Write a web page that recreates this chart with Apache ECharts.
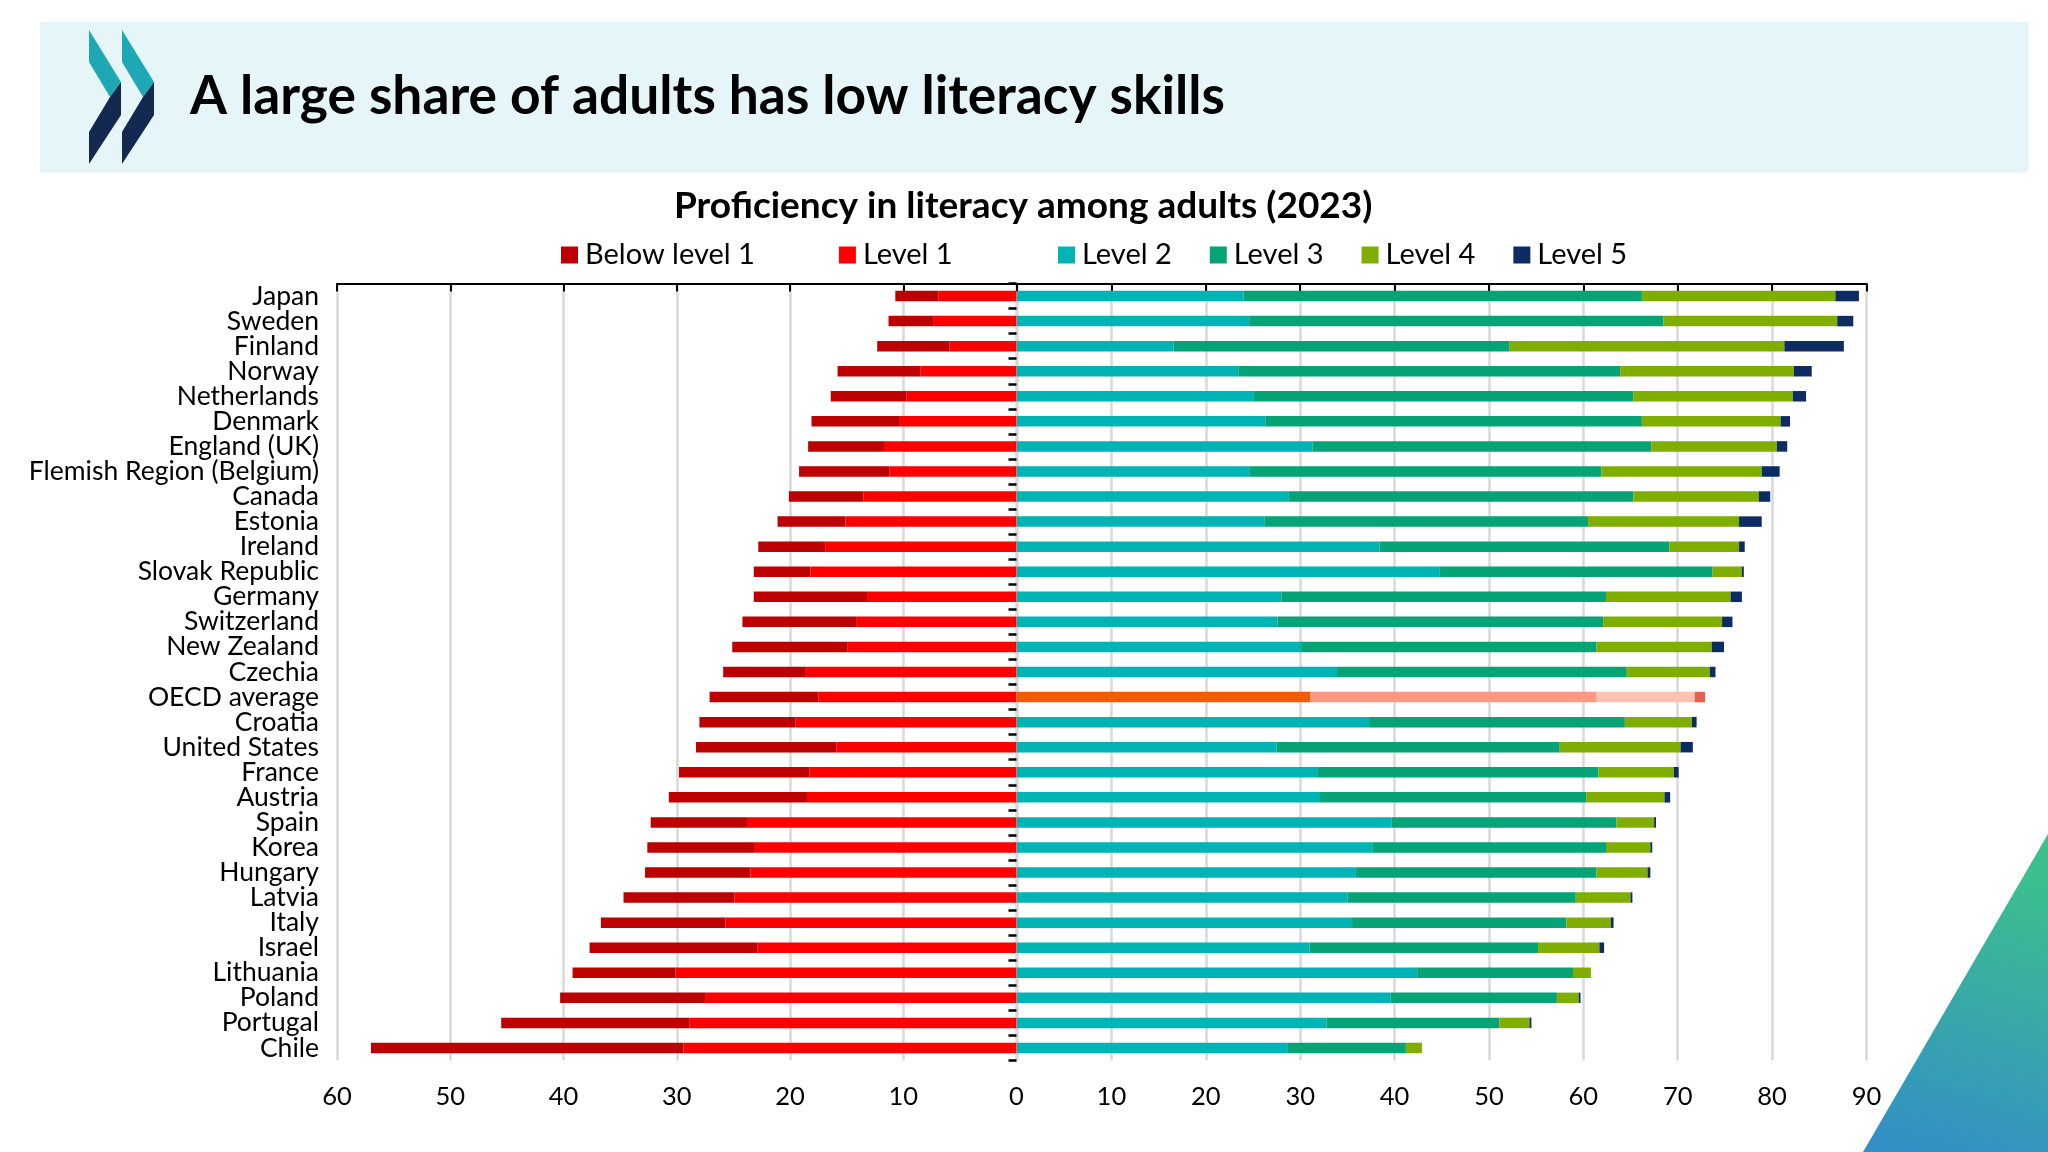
<!DOCTYPE html>
<html>
<head>
<meta charset="utf-8">
<title>Proficiency in literacy among adults (2023)</title>
<script src="https://cdn.jsdelivr.net/npm/echarts@6/dist/echarts.min.js"></script>
<style>
html, body { margin: 0; padding: 0; background: #fff; }
#chart { width: 2048px; height: 1152px; }
</style>
</head>
<body>
<div id="chart"></div>
<script>
var countries = ['Japan', 'Sweden', 'Finland', 'Norway', 'Netherlands', 'Denmark', 'England (UK)', 'Flemish Region (Belgium)',
    'Canada', 'Estonia', 'Ireland', 'Slovak Republic', 'Germany', 'Switzerland', 'New Zealand', 'Czechia', 'OECD average',
    'Croatia', 'United States', 'France', 'Austria', 'Spain', 'Korea', 'Hungary', 'Latvia', 'Italy', 'Israel', 'Lithuania',
    'Poland', 'Portugal', 'Chile'];

var level1 = [6.9, 7.3, 5.9, 8.5, 9.7, 10.3, 11.7, 11.2, 13.5, 15.1, 16.9, 18.2, 13.2, 14.1, 14.9, 18.6, 17.5,
    19.5, 15.9, 18.3, 18.5, 23.8, 23.1, 23.5, 24.9, 25.7, 22.9, 30.1, 27.5, 28.9, 29.4];
var belowLevel1 = [3.8, 4.0, 6.4, 7.3, 6.7, 7.8, 6.7, 8.0, 6.6, 6.0, 5.9, 5.0, 10.0, 10.1, 10.2, 7.3, 9.6,
    8.5, 12.4, 11.5, 12.2, 8.5, 9.5, 9.3, 9.8, 11.0, 14.8, 9.1, 12.8, 16.6, 27.6];
var level2 = [24.0, 24.6, 16.6, 23.5, 25.1, 26.3, 31.3, 24.6, 28.8, 26.2, 38.4, 44.8, 28.0, 27.6, 30.1, 33.9, 31.1,
    37.3, 27.5, 31.8, 32.1, 39.7, 37.7, 35.9, 35.0, 35.5, 31.0, 42.4, 39.6, 32.8, 28.7];
var level3 = [42.2, 43.9, 35.6, 40.4, 40.2, 39.9, 35.9, 37.3, 36.5, 34.3, 30.7, 28.9, 34.4, 34.5, 31.3, 30.7, 30.3,
    27.1, 30.0, 29.8, 28.2, 23.8, 24.7, 25.5, 24.2, 22.7, 24.2, 16.5, 17.6, 18.3, 12.5];
var level4 = [20.5, 18.4, 29.1, 18.4, 16.9, 14.7, 13.3, 17.0, 13.3, 16.0, 7.4, 3.1, 13.2, 12.6, 12.2, 8.8, 10.4,
    7.1, 12.8, 8.0, 8.3, 4.0, 4.7, 5.4, 5.8, 4.7, 6.5, 1.9, 2.3, 3.2, 1.7];
var level5 = [2.5, 1.7, 6.3, 1.9, 1.4, 1.0, 1.1, 1.9, 1.2, 2.4, 0.6, 0.2, 1.2, 1.1, 1.3, 0.6, 1.1,
    0.5, 1.3, 0.5, 0.6, 0.2, 0.2, 0.3, 0.2, 0.3, 0.5, 0, 0.2, 0.2, 0];

var FONT = 'Lato';
var oecdIdx = countries.indexOf('OECD average');

// OECD average row has its own tints on the right side
function barData(_values, _oecdColor) {
    return _values.map(function(v, i) {
        if (i === oecdIdx && _oecdColor) {
            return { value: v, itemStyle: { color: _oecdColor } };
        }
        return v;
    });
}

function barSeries(_name, _values, _color, _side, _oecdColor) {
    var left = _side === 'left';
    return {
        name: _name,
        type: 'bar',
        stack: _side,
        xAxisIndex: left ? 0 : 2,
        yAxisIndex: left ? 0 : 2,
        barWidth: 10.5,
        itemStyle: { color: _color },
        data: barData(_values, _oecdColor)
    };
}

function bottomAxis(_grid, _max, _inverse, _showZero) {
    return {
        type: 'value', gridIndex: _grid, position: 'bottom', min: 0, max: _max, interval: 10, inverse: _inverse,
        axisLine: { show: false, onZero: false },
        axisTick: { show: false },
        axisLabel: { margin: 23, fontFamily: FONT, fontSize: 25.5, color: '#000', showMinLabel: _showZero },
        splitLine: { show: true, lineStyle: { color: '#d9d9d9', width: 2.5 } }
    };
}

function topAxis(_grid, _max, _inverse) {
    return {
        type: 'value', gridIndex: _grid, position: 'top', min: 0, max: _max, interval: 10, inverse: _inverse,
        axisLine: { show: true, onZero: false, lineStyle: { color: '#000', width: 2 } },
        axisTick: { show: true, inside: true, length: 8, lineStyle: { color: '#000', width: 2 } },
        axisLabel: { show: false },
        splitLine: { show: false }
    };
}

function chevron(_dx) {
    return [
        { type: 'polygon', shape: { points: [[89 + _dx, 30], [121 + _dx, 82], [110 + _dx, 97], [89 + _dx, 62]] }, style: { fill: '#1ea8b4' } },
        { type: 'polygon', shape: { points: [[121 + _dx, 82], [121 + _dx, 115], [89 + _dx, 164], [89 + _dx, 132], [110 + _dx, 97]] }, style: { fill: '#14294f' } }
    ];
}

var decor = [
    { type: 'rect', shape: { x: 40, y: 22, width: 1988, height: 151 }, style: { fill: '#e6f5f7' } },
    {
        type: 'polygon',
        shape: { points: [[2048, 834], [2048, 1152], [1863, 1152]] },
        style: {
            fill: {
                type: 'linear', x: 0.75, y: 0.1, x2: 0.25, y2: 1,
                colorStops: [{ offset: 0, color: '#3cbf8c' }, { offset: 1, color: '#338fc6' }]
            }
        }
    }
].concat(chevron(0), chevron(33));

var option = {
    backgroundColor: '#fff',
    animation: false,
    title: [
        { text: 'A large share of adults has low literacy skills', left: 185, top: 65, textStyle: { fontFamily: FONT, fontSize: 53.3, fontWeight: 'bold', color: '#000' } },
        { text: 'Proficiency in literacy among adults (2023)', left: 669, top: 183, textStyle: { fontFamily: FONT, fontSize: 37, fontWeight: 'bold', color: '#000' } }
    ],
    legend: [
        {
            data: ['Below level 1', 'Level 1'], left: 556, top: 235.5, icon: 'rect', itemWidth: 17, itemHeight: 17, itemGap: 84,
            textStyle: { fontFamily: FONT, fontSize: 29, color: '#000', padding: [0, 0, 0, 2] }
        },
        {
            data: ['Level 2', 'Level 3', 'Level 4', 'Level 5'], left: 1053, top: 235.5, icon: 'rect', itemWidth: 17, itemHeight: 17, itemGap: 38,
            textStyle: { fontFamily: FONT, fontSize: 29, color: '#000', padding: [0, 0, 0, 2] }
        }
    ],
    graphic: decor,
    grid: [
        { left: 337, top: 283.5, width: 679.5, height: 777 },
        { left: 1017, top: 283.5, width: 849.5, height: 777 }
    ],
    xAxis: [
        bottomAxis(0, 60, true, true),
        topAxis(0, 60, true),
        bottomAxis(1, 90, false, false),
        topAxis(1, 90, false)
    ],
    yAxis: [
        {
            type: 'category', gridIndex: 0, position: 'left', inverse: true, data: countries,
            axisLine: { show: false, onZero: false },
            axisTick: { show: false },
            axisLabel: { interval: 0, margin: 18, fontFamily: FONT, fontSize: 26.5, color: '#000' }
        },
        {
            // small ticks beside the zero line
            type: 'category', gridIndex: 0, position: 'right', inverse: true, data: countries,
            axisLine: { show: false, onZero: false },
            axisTick: { show: true, inside: true, interval: 0, length: 8, lineStyle: { color: '#000', width: 2.5 } },
            axisLabel: { show: false }
        },
        {
            type: 'category', gridIndex: 1, position: 'left', inverse: true, data: countries,
            axisLine: { show: false, onZero: false },
            axisTick: { show: false },
            axisLabel: { show: false }
        }
    ],
    series: [
        barSeries('Level 1', level1, '#ff0000', 'left'),
        barSeries('Below level 1', belowLevel1, '#bd0000', 'left'),
        barSeries('Level 2', level2, '#00b3b5', 'right', '#f45b00'),
        barSeries('Level 3', level3, '#05a375', 'right', '#fa9a80'),
        barSeries('Level 4', level4, '#7fae00', 'right', '#fdc2b0'),
        barSeries('Level 5', level5, '#0d2c63', 'right', '#e0634f')
    ]
};

var ecObj = echarts.init(document.getElementById('chart'));
ecObj.setOption(option);
</script>
</body>
</html>
